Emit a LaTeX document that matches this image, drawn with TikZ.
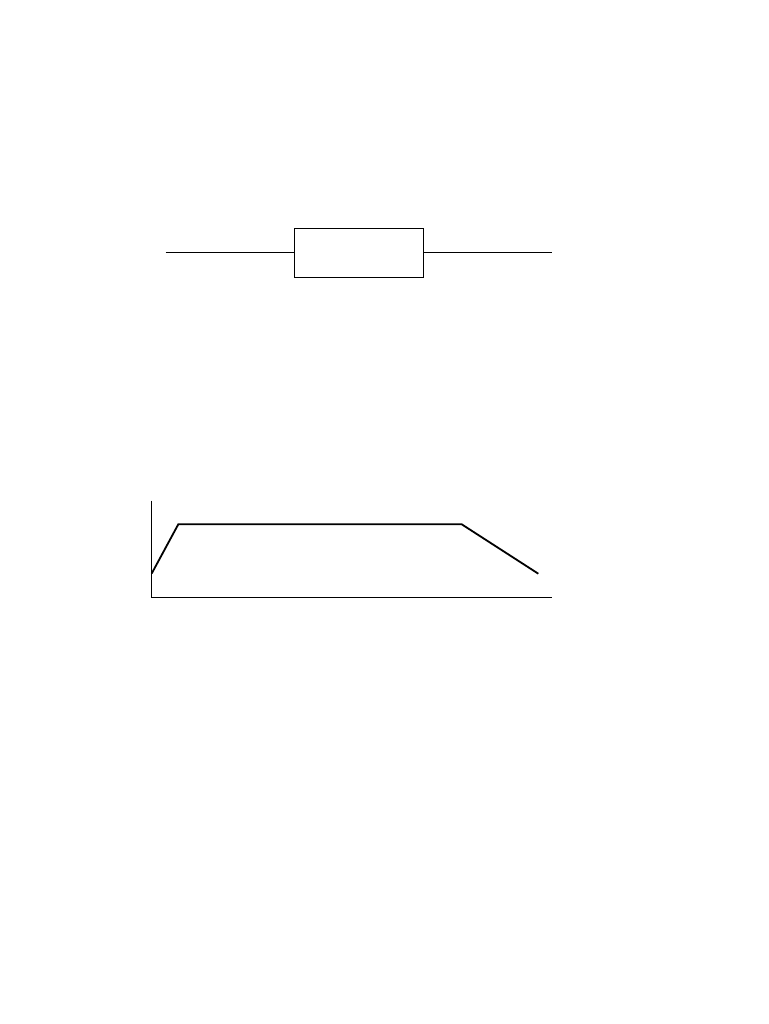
\documentclass[tikz,border=0pt]{standalone}
\usetikzlibrary{positioning}
\tikzset{
	resbox/.style={draw,line width=1.2pt,minimum width=129pt,minimum height=48.5pt,inner sep=0pt},
	wire/.style={line width=1pt},
	axis/.style={line width=1pt},
	curve/.style={line width=1.8pt}
}
\begin{document}
\begin{tikzpicture}[
	x=1pt,
	y=-1pt,
	line cap=butt,
	line join=miter
	]
	\useasboundingbox (0,0) rectangle (768,1024);
	% resistor with leads
	\node[resbox] (R) at (358.7,253) {};
	\coordinate (inL) at (165.5,252.5);
	\coordinate (inR) at (551.5,252.5);
	\draw[wire] (inL) -- (R.west |- inL);
	\draw[wire] (R.east |- inR) -- (inR);
	% axes
	\coordinate (O) at (151.5,597.5);
	\coordinate (yTop) at (151.5,500.5);
	\coordinate (xEnd) at (551.5,597.5);
	\draw[axis] (yTop) -- (O) -- (xEnd);
	% profile
	\coordinate (p0) at (151.7,573.5);
	\coordinate (p1) at (178.3,524.3);
	\coordinate (p2) at (461.7,524.3);
	\coordinate (p3) at (538.3,573.7);
	\draw[curve] (p0) -- (p1) -- (p2) -- (p3);
\end{tikzpicture}
\end{document}
